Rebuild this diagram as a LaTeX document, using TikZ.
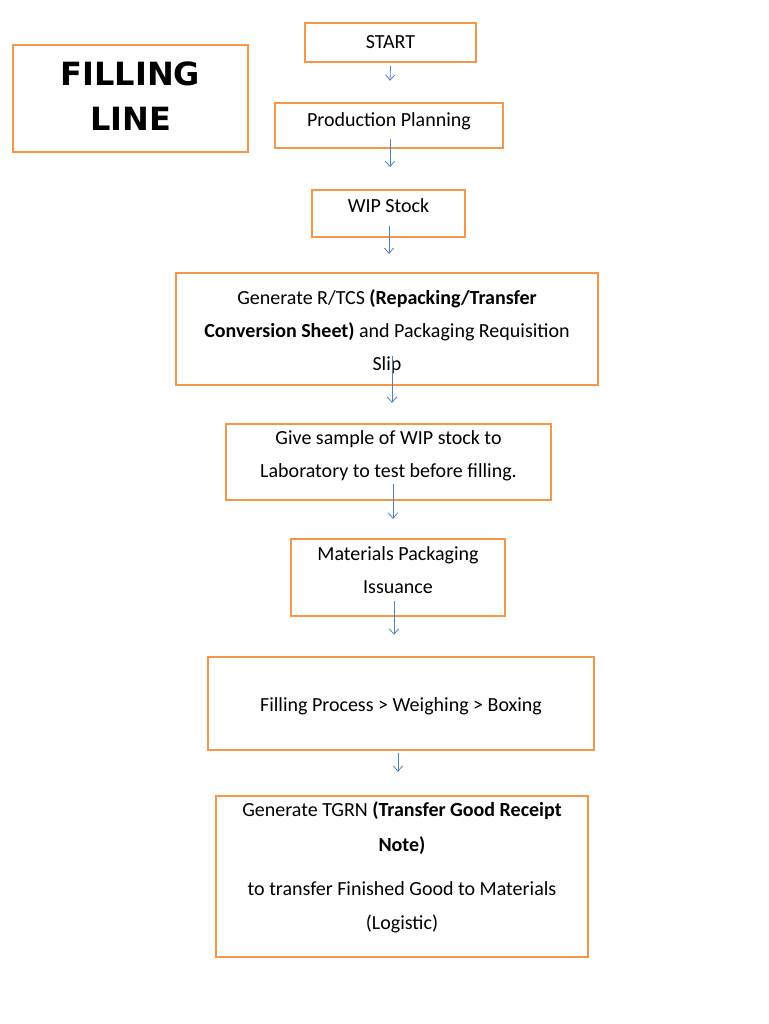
\documentclass[tikz,border=0pt]{standalone}
\usepackage{fontspec}
\setmainfont{Carlito}
\newfontfamily\titlefont{DejaVu Sans}
\usetikzlibrary{arrows.meta,calc}
\definecolor{orng}{HTML}{F79646}
\definecolor{blu}{HTML}{4F81BD}
\begin{document}
\begin{tikzpicture}[x=0.75pt,y=-0.75pt,
  box/.style={draw=orng,line width=1.6pt,inner sep=0pt},
  txt/.style={font=\fontsize{15}{18}\selectfont,inner sep=0pt,anchor=base},
  arr/.style={draw=blu,line width=0.6pt,-{Straight Barb[length=4pt,width=7pt]}}]
\useasboundingbox (0,0) rectangle (768,1024);
\node[box,minimum width=176pt,minimum height=80pt] (title) at (130.5,98.5) {};
\node[font=\titlefont\bfseries\fontsize{24}{28}\selectfont,align=center] at (130.5,96) {FILLING\\[6pt]LINE};
\node[box,minimum width=128pt,minimum height=29pt] (start) at (390.5,42.5) {};
\node[txt] at (390.5,49) {START};
\node[box,minimum width=171pt,minimum height=34pt] (pp) at (389,125.5) {};
\node[txt] at (389,126) {Production Planning};
\node[box,minimum width=115pt,minimum height=35pt] (wip) at (388.5,213.5) {};
\node[txt] at (388.5,212) {WIP Stock};
\node[box,minimum width=316pt,minimum height=84pt] (rtcs) at (387,329) {};
\node[txt] at (387,304) {Generate R/TCS \textbf{(Repacking/Transfer}};
\node[txt] at (387,337) {\textbf{Conversion Sheet)} and Packaging Requisition};
\node[txt] at (387,370) {Slip};
\node[box,minimum width=244pt,minimum height=57pt] (sample) at (388.5,462) {};
\node[txt] at (388.5,444) {Give sample of WIP stock to};
\node[txt] at (388.5,477) {Laboratory to test before filling.};
\node[box,minimum width=160pt,minimum height=58pt] (mat) at (398,577.5) {};
\node[txt] at (398,560) {Materials Packaging};
\node[txt] at (398,593) {Issuance};
\node[box,minimum width=290pt,minimum height=70pt] (fill) at (401,703.5) {};
\node[txt] at (401,711) {Filling Process > Weighing > Boxing};
\node[box,minimum width=279pt,minimum height=121pt] (tgrn) at (402,876.5) {};
\node[txt] at (402,816) {Generate TGRN \textbf{(Transfer Good Receipt}};
\node[txt] at (402,851) {\textbf{Note)}};
\node[txt] at (402,895) {to transfer Finished Good to Materials};
\node[txt] at (402,929) {(Logistic)};
\draw[arr] ($(start.south)+(0,3)$) -- ($(pp.north)+(1,-21)$);
\draw[arr] ($(pp.south)+(1,-10)$) -- ($(wip.north)+(1.5,-22)$);
\draw[arr] ($(wip.south)+(0.5,-12)$) -- ($(rtcs.north)+(2,-18)$);
\draw[arr] ($(rtcs.south)+(5,-30)$) -- ($(sample.north)+(3.5,-20)$);
\draw[arr] ($(sample.south)+(4.5,-17)$) -- ($(mat.north)+(-5,-19)$);
\draw[arr] ($(mat.south)+(-4,-16)$) -- ($(fill.north)+(-7,-21)$);
\draw[arr] ($(fill.south)+(-3,2)$) -- ($(tgrn.north)+(-4,-23)$);
\end{tikzpicture}
\end{document}
